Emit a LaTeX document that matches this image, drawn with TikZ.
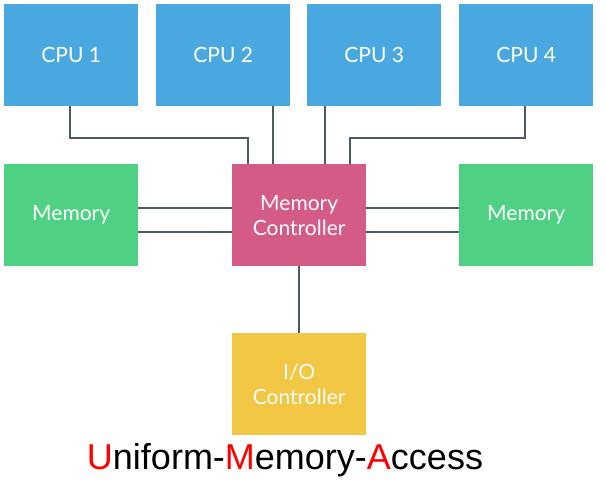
\documentclass[tikz,border=0pt]{standalone}
\usepackage{fontspec}
\setmainfont{Lato}
\newfontfamily\arialf{Liberation Sans}
\definecolor{cpu}{HTML}{4AA8E0}
\definecolor{mem}{HTML}{4FD184}
\definecolor{ctl}{HTML}{D45A87}
\definecolor{io}{HTML}{F2C744}
\definecolor{wire}{HTML}{4A5A66}
\begin{document}
\begin{tikzpicture}[x=1pt,y=-1pt,
 box/.style={minimum width=134pt,minimum height=102pt,inner sep=0pt,text=white,font=\fontsize{21}{25}\selectfont,align=center,anchor=north west},
 w/.style={draw=wire,line width=2.6pt}]
\useasboundingbox[fill=white] (0,0) rectangle (606,504);
\node[box,fill=cpu] (c1) at (4,4) {CPU 1};
\node[box,fill=cpu] (c2) at (156,4) {CPU 2};
\node[box,fill=cpu] (c3) at (307,4) {CPU 3};
\node[box,fill=cpu] (c4) at (459,4) {CPU 4};
\node[box,fill=mem] (ml) at (4,164) {Memory};
\node[box,fill=ctl] (mc) at (232,164) {Memory\\Controller};
\node[box,fill=mem] (mr) at (459,164) {Memory};
\node[box,fill=io] (io) at (232,333) {I/O\\Controller};
\node[font=\arialf\fontsize{36}{40}\selectfont,anchor=center] (t) at (285,460) {\textcolor{red}{U}niform-\textcolor{red}{M}emory-\textcolor{red}{A}ccess};
\coordinate (k1) at (70,138); \coordinate (k2) at (248,138);
\coordinate (k3) at (525,138); \coordinate (k4) at (350,138);
\draw[w] (c1.south -| k1) -- (k1) -- (k2) -- (k2 |- mc.north);
\draw[w] (c2.south -| 273,0) -- (mc.north -| 273,0);
\draw[w] (c3.south -| 325,0) -- (mc.north -| 325,0);
\draw[w] (c4.south -| k3) -- (k3) -- (k4) -- (k4 |- mc.north);
\draw[w] (ml.east |- 0,208) -- (mc.west |- 0,208);
\draw[w] (ml.east |- 0,232) -- (mc.west |- 0,232);
\draw[w] (mc.east |- 0,208) -- (mr.west |- 0,208);
\draw[w] (mc.east |- 0,232) -- (mr.west |- 0,232);
\draw[w] (mc.south -| 299,0) -- (io.north -| 299,0);
\end{tikzpicture}
\end{document}
